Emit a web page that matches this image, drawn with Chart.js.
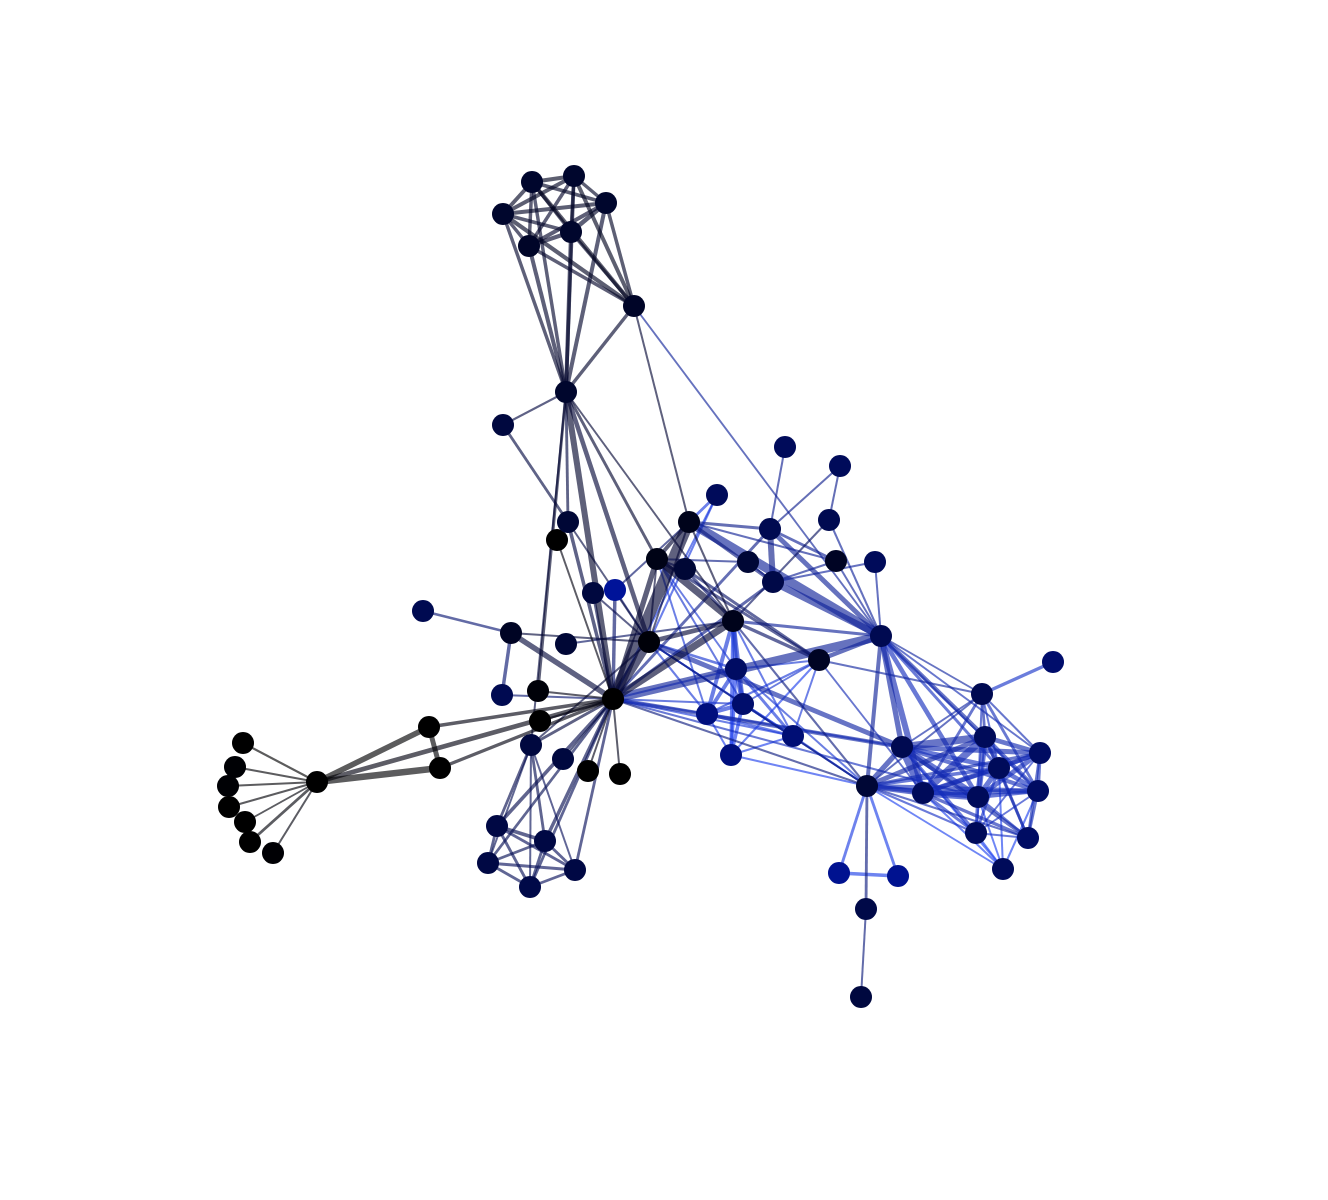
<!DOCTYPE html>
<html>
<head>
<meta charset="utf-8">
<title>Les Misérables co-occurrence network</title>
<script src="https://cdn.jsdelivr.net/npm/chart.js@4.4.1/dist/chart.umd.min.js"></script>
<style>
  html, body { margin: 0; padding: 0; background: #ffffff; }
  #wrap { width: 1328px; height: 1200px; }
</style>
</head>
<body>
<div id="wrap"><canvas id="myChart" width="1328" height="1200"></canvas></div>
<script>
// node names, layout coordinates (layout units) and tone (0 = black, 1 = bright blue)
const nodeNames = ["Myriel","Napoleon","Mlle.Baptistine","Mme.Magloire","CountessdeLo","Geborand","Champtercier","Cravatte","Count","OldMan",
  "Labarre","Valjean","Marguerite","Mme.deR","Isabeau","Gervais","Tholomyes","Listolier","Fameuil","Blacheville",
  "Favourite","Dahlia","Zephine","Fantine","Mme.Thenardier","Thenardier","Cosette","Javert","Fauchelevent","Bamatabois",
  "Perpetue","Simplice","Scaufflaire","Woman1","Judge","Champmathieu","Brevet","Chenildieu","Cochepaille","Pontmercy",
  "Boulatruelle","Eponine","Anzelma","Woman2","MotherInnocent","Gribier","Jondrette","Mme.Burgon","Gavroche","Gillenormand",
  "Magnon","Mlle.Gillenormand","Mme.Pontmercy","Mlle.Vaubois","Lt.Gillenormand","Marius","BaronessT","Mabeuf","Enjolras","Combeferre",
  "Prouvaire","Feuilly","Courfeyrac","Bahorel","Bossuet","Joly","Grantaire","MotherPlutarch","Gueulemer","Babet",
  "Claquesous","Montparnasse","Toussaint","Child1","Child2","Brujon","Mme.Hucheloup"];

const nodeX = [-34.7,-42.1,-23.5,-22.4,-42.9,-43.6,-43.5,-41.9,-41.4,-39.1,
  -10.7,-5.1,-12.6,-12.4,-7.6,-4.4,-3.0,-13.2,-9.0,-16.1,
  -5.8,-9.3,-13.5,-9.8,-0.7,6.9,2.5,-1.5,-15.3,-13.3,
  -16.1,-9.6,-10.1,-7.1,-16.7,-11.9,-17.6,-13.4,-8.9,16.5,
  -9.8,15.5,2.1,-4.9,-16.2,-24.1,19.7,20.2,20.3,10.9,
  8.4,10.6,17.6,12.1,17.2,21.7,21.1,31.8,23.8,32.1,
  36.4,37.6,25.9,37.4,31.4,33.5,31.2,38.9,7.9,7.2,
  4.3,12.9,5.3,17.5,23.4,6.7,33.9];

const nodeY = [-18.2,-14.3,-12.7,-16.8,-16.7,-18.6,-20.7,-22.2,-24.2,-25.3,
  6.0,-9.9,-9.1,-12.1,-17.1,-17.4,29.4,41.8,42.4,38.6,
  39.7,36.8,35.4,20.8,4.1,-2.1,7.8,-4.2,-3.3,-14.5,
  17.5,7.8,-15.9,0.7,-22.6,-24.1,-26.3,-28.7,-27.0,8.0,
  -4.4,-6.0,3.1,1.0,-9.5,-1.1,-39.7,-30.9,-18.6,1.8,
  3.8,7.1,13.4,15.3,3.9,-3.6,3.8,-9.4,-14.7,-13.7,
  -23.8,-15.3,-19.3,-19.1,-19.7,-16.8,-23.3,-6.2,-10.4,-6.9,
  -11.4,-13.6,10.5,-27.3,-27.6,-15.5,-26.9];

const nodeTone = [0,0,0,0,0.03,0.03,0,0,0,0.02,
  0,0,0.05,0,0,0,0.22,0.25,0.25,0.25,
  0.25,0.25,0.22,0.25,0.12,0.15,0.15,0.05,0.2,0.35,
  0.35,0.3,0.35,0.35,0.38,0.38,0.38,0.4,0.38,0.45,
  0.3,0.2,0.3,0.85,0.45,0.45,0.35,0.4,0.3,0.4,
  0.3,0.45,0.5,0.5,0.2,0.45,0.5,0.45,0.45,0.5,
  0.55,0.55,0.5,0.55,0.5,0.5,0.5,0.6,0.6,0.55,
  0.7,0.65,0.5,0.8,0.8,0.7,0.5];

// co-occurrence links: [source, target, weight]
const links = [
  ["Napoleon","Myriel",1],["Mlle.Baptistine","Myriel",8],["Mme.Magloire","Myriel",10],["Mme.Magloire","Mlle.Baptistine",6],
  ["CountessdeLo","Myriel",1],["Geborand","Myriel",1],["Champtercier","Myriel",1],["Cravatte","Myriel",1],["Count","Myriel",2],["OldMan","Myriel",1],
  ["Valjean","Labarre",1],["Valjean","Mme.Magloire",3],["Valjean","Mlle.Baptistine",3],["Valjean","Myriel",5],
  ["Marguerite","Valjean",1],["Mme.deR","Valjean",1],["Isabeau","Valjean",1],["Gervais","Valjean",1],
  ["Listolier","Tholomyes",4],["Fameuil","Tholomyes",4],["Fameuil","Listolier",4],["Blacheville","Tholomyes",4],["Blacheville","Listolier",4],["Blacheville","Fameuil",4],
  ["Favourite","Tholomyes",3],["Favourite","Listolier",3],["Favourite","Fameuil",3],["Favourite","Blacheville",4],
  ["Dahlia","Tholomyes",3],["Dahlia","Listolier",3],["Dahlia","Fameuil",3],["Dahlia","Blacheville",3],["Dahlia","Favourite",5],
  ["Zephine","Tholomyes",3],["Zephine","Listolier",3],["Zephine","Fameuil",3],["Zephine","Blacheville",3],["Zephine","Favourite",4],["Zephine","Dahlia",4],
  ["Fantine","Tholomyes",3],["Fantine","Listolier",3],["Fantine","Fameuil",3],["Fantine","Blacheville",3],["Fantine","Favourite",4],["Fantine","Dahlia",4],["Fantine","Zephine",4],
  ["Fantine","Marguerite",2],["Fantine","Valjean",9],
  ["Mme.Thenardier","Fantine",2],["Mme.Thenardier","Valjean",7],
  ["Thenardier","Mme.Thenardier",13],["Thenardier","Fantine",1],["Thenardier","Valjean",12],
  ["Cosette","Mme.Thenardier",4],["Cosette","Valjean",31],["Cosette","Tholomyes",1],["Cosette","Thenardier",1],
  ["Javert","Valjean",17],["Javert","Fantine",5],["Javert","Thenardier",5],["Javert","Mme.Thenardier",1],["Javert","Cosette",1],
  ["Fauchelevent","Valjean",8],["Fauchelevent","Javert",1],
  ["Bamatabois","Fantine",1],["Bamatabois","Javert",1],["Bamatabois","Valjean",2],
  ["Perpetue","Fantine",1],["Simplice","Perpetue",2],["Simplice","Valjean",3],["Simplice","Fantine",2],["Simplice","Javert",1],
  ["Scaufflaire","Valjean",1],["Woman1","Valjean",2],["Woman1","Javert",1],
  ["Judge","Valjean",3],["Judge","Bamatabois",2],
  ["Champmathieu","Valjean",3],["Champmathieu","Judge",3],["Champmathieu","Bamatabois",2],
  ["Brevet","Judge",2],["Brevet","Champmathieu",2],["Brevet","Valjean",2],["Brevet","Bamatabois",1],
  ["Chenildieu","Judge",2],["Chenildieu","Champmathieu",2],["Chenildieu","Brevet",2],["Chenildieu","Valjean",2],["Chenildieu","Bamatabois",1],
  ["Cochepaille","Judge",2],["Cochepaille","Champmathieu",2],["Cochepaille","Brevet",2],["Cochepaille","Chenildieu",2],["Cochepaille","Valjean",2],["Cochepaille","Bamatabois",1],
  ["Pontmercy","Thenardier",1],["Boulatruelle","Thenardier",1],
  ["Eponine","Mme.Thenardier",2],["Eponine","Thenardier",3],
  ["Anzelma","Eponine",2],["Anzelma","Thenardier",2],["Anzelma","Mme.Thenardier",1],
  ["Woman2","Valjean",3],["Woman2","Cosette",1],["Woman2","Javert",1],
  ["MotherInnocent","Fauchelevent",3],["MotherInnocent","Valjean",1],["Gribier","Fauchelevent",2],
  ["Mme.Burgon","Jondrette",1],
  ["Gavroche","Mme.Burgon",2],["Gavroche","Thenardier",1],["Gavroche","Javert",1],["Gavroche","Valjean",1],
  ["Gillenormand","Cosette",3],["Gillenormand","Valjean",2],
  ["Magnon","Gillenormand",1],["Magnon","Mme.Thenardier",1],
  ["Mlle.Gillenormand","Gillenormand",9],["Mlle.Gillenormand","Cosette",2],["Mlle.Gillenormand","Valjean",2],
  ["Mme.Pontmercy","Mlle.Gillenormand",1],["Mme.Pontmercy","Pontmercy",1],["Mlle.Vaubois","Mlle.Gillenormand",1],
  ["Lt.Gillenormand","Mlle.Gillenormand",2],["Lt.Gillenormand","Gillenormand",1],["Lt.Gillenormand","Cosette",1],
  ["Marius","Mlle.Gillenormand",6],["Marius","Gillenormand",12],["Marius","Pontmercy",1],["Marius","Lt.Gillenormand",1],
  ["Marius","Cosette",21],["Marius","Valjean",19],["Marius","Tholomyes",1],["Marius","Thenardier",2],["Marius","Eponine",5],["Marius","Gavroche",4],
  ["BaronessT","Gillenormand",1],["BaronessT","Marius",1],
  ["Mabeuf","Marius",1],["Mabeuf","Eponine",1],["Mabeuf","Gavroche",1],
  ["Enjolras","Marius",7],["Enjolras","Gavroche",7],["Enjolras","Javert",6],["Enjolras","Mabeuf",1],["Enjolras","Valjean",4],
  ["Combeferre","Enjolras",15],["Combeferre","Marius",5],["Combeferre","Gavroche",6],["Combeferre","Mabeuf",2],
  ["Prouvaire","Gavroche",1],["Prouvaire","Enjolras",4],["Prouvaire","Combeferre",2],
  ["Feuilly","Gavroche",2],["Feuilly","Enjolras",6],["Feuilly","Prouvaire",2],["Feuilly","Combeferre",5],["Feuilly","Mabeuf",1],["Feuilly","Marius",1],
  ["Courfeyrac","Marius",9],["Courfeyrac","Enjolras",17],["Courfeyrac","Combeferre",13],["Courfeyrac","Gavroche",7],["Courfeyrac","Mabeuf",2],
  ["Courfeyrac","Eponine",1],["Courfeyrac","Feuilly",6],["Courfeyrac","Prouvaire",3],
  ["Bahorel","Combeferre",5],["Bahorel","Gavroche",5],["Bahorel","Courfeyrac",6],["Bahorel","Mabeuf",2],["Bahorel","Enjolras",4],
  ["Bahorel","Feuilly",3],["Bahorel","Prouvaire",2],["Bahorel","Marius",1],
  ["Bossuet","Marius",5],["Bossuet","Courfeyrac",12],["Bossuet","Gavroche",5],["Bossuet","Bahorel",4],["Bossuet","Enjolras",10],
  ["Bossuet","Feuilly",6],["Bossuet","Prouvaire",2],["Bossuet","Combeferre",9],["Bossuet","Mabeuf",1],["Bossuet","Valjean",1],
  ["Joly","Bahorel",5],["Joly","Bossuet",7],["Joly","Gavroche",3],["Joly","Courfeyrac",5],["Joly","Enjolras",5],
  ["Joly","Feuilly",5],["Joly","Prouvaire",2],["Joly","Combeferre",5],["Joly","Mabeuf",1],["Joly","Marius",2],
  ["Grantaire","Bossuet",3],["Grantaire","Enjolras",3],["Grantaire","Combeferre",1],["Grantaire","Courfeyrac",2],["Grantaire","Joly",2],
  ["Grantaire","Gavroche",1],["Grantaire","Bahorel",1],["Grantaire","Feuilly",1],["Grantaire","Prouvaire",1],
  ["MotherPlutarch","Mabeuf",3],
  ["Gueulemer","Thenardier",5],["Gueulemer","Valjean",1],["Gueulemer","Mme.Thenardier",1],["Gueulemer","Javert",1],["Gueulemer","Gavroche",1],["Gueulemer","Eponine",1],
  ["Babet","Thenardier",6],["Babet","Gueulemer",6],["Babet","Valjean",1],["Babet","Mme.Thenardier",1],["Babet","Javert",2],["Babet","Gavroche",1],["Babet","Eponine",1],
  ["Claquesous","Thenardier",4],["Claquesous","Babet",4],["Claquesous","Gueulemer",4],["Claquesous","Valjean",1],["Claquesous","Mme.Thenardier",1],
  ["Claquesous","Javert",1],["Claquesous","Eponine",1],["Claquesous","Enjolras",1],
  ["Montparnasse","Javert",1],["Montparnasse","Babet",2],["Montparnasse","Gueulemer",2],["Montparnasse","Claquesous",2],["Montparnasse","Valjean",1],
  ["Montparnasse","Gavroche",1],["Montparnasse","Eponine",1],["Montparnasse","Thenardier",1],
  ["Toussaint","Cosette",2],["Toussaint","Javert",1],["Toussaint","Valjean",1],
  ["Child1","Gavroche",2],["Child2","Gavroche",2],["Child2","Child1",3],
  ["Brujon","Babet",3],["Brujon","Gueulemer",3],["Brujon","Thenardier",3],["Brujon","Gavroche",1],["Brujon","Eponine",1],["Brujon","Claquesous",1],["Brujon","Montparnasse",1],
  ["Mme.Hucheloup","Bossuet",1],["Mme.Hucheloup","Joly",1],["Mme.Hucheloup","Grantaire",1],["Mme.Hucheloup","Bahorel",1],
  ["Mme.Hucheloup","Courfeyrac",1],["Mme.Hucheloup","Gavroche",1],["Mme.Hucheloup","Enjolras",1]
];

const indexOf = {};
nodeNames.forEach((n, i) => { indexOf[n] = i; });

// node colour: black -> deep blue
function nodeColor(t) {
    return "rgb(0," + Math.round(22 * t) + "," + Math.round(180 * t) + ")";
}

// link colour follows the source node's position in the list, dark grey -> blue
function linkColor(src) {
    const t = src / (nodeNames.length - 1);
    const r = Math.round(30 * t * t);
    const g = Math.round(65 * t * t);
    const b = Math.round(240 * Math.pow(t, 1.4));
    return "rgba(" + r + "," + g + "," + b + ",0.64)";
}

const linkDatasets = links.map(([s, t, v]) => {
    const a = indexOf[s], b = indexOf[t];
    return {
        type: "scatter",
        showLine: true,
        data: [{x: nodeX[a], y: nodeY[a]}, {x: nodeX[b], y: nodeY[b]}],
        borderColor: linkColor(a),
        borderWidth: 2 * Math.sqrt(v),
        pointRadius: 0,
        pointHoverRadius: 0,
        order: 1
    };
});

const nodeDataset = {
    type: "scatter",
    data: nodeNames.map((n, i) => ({x: nodeX[i], y: nodeY[i]})),
    backgroundColor: nodeTone.map(nodeColor),
    borderWidth: 0,
    pointRadius: 11,
    pointHoverRadius: 11,
    order: 0
};

const ctx = document.getElementById("myChart").getContext("2d");
new Chart(ctx, {
    type: "scatter",
    data: {
        datasets: [nodeDataset].concat(linkDatasets)
    },
    options: {
        responsive: false,
        animation: false,
        devicePixelRatio: 1,
        layout: {padding: 0, autoPadding: false},
        plugins: {
            legend: {display: false},
            tooltip: {enabled: false}
        },
        scales: {
            x: {type: "linear", min: -66.4, max: 66.4, display: false},
            y: {type: "linear", min: -60, max: 60, display: false}
        }
    }
});
</script>
</body>
</html>
